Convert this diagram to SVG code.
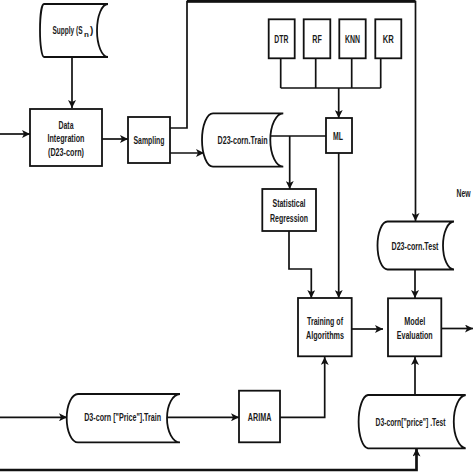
<svg xmlns="http://www.w3.org/2000/svg" width="474" height="474" viewBox="0 0 474 474">
<style>
.b{fill:#fff;stroke:#111;stroke-width:1.8}
.c{fill:none;stroke:#111;stroke-width:1.7}
.t{font-family:"Liberation Sans Narrow","Liberation Sans",Arial,sans-serif;font-weight:bold;font-size:11px;fill:#1a1a1a;text-anchor:middle}
</style>
<defs>
<marker id="a" viewBox="0 0 10 10" refX="10" refY="5" markerWidth="8" markerHeight="8" markerUnits="userSpaceOnUse" orient="auto">
<path d="M0,0 L10,5 L0,10 L2.5,5 z" fill="#111"/>
</marker>
</defs>
<rect width="474" height="474" fill="#fff"/>
<g id="connectors">
<path class="c" d="M72,58 V108" marker-end="url(#a)"/>
<path class="c" d="M0,134 H30" marker-end="url(#a)"/>
<path class="c" d="M102,139 H128" marker-end="url(#a)"/>
<path class="c" d="M170,153 H204" marker-end="url(#a)"/>
<path class="c" d="M170,128 H187 V1.5 H415.5 V221" marker-end="url(#a)"/>
<path class="c" d="M187,1.3 H415.5" style="stroke-width:2.7"/>
<path class="c" d="M270,136 H326"/>
<path class="c" d="M289.7,136 V189" marker-end="url(#a)"/>
<path class="c" d="M280.7,58 V88 M315.7,58 V88 M351.7,58 V88 M380.7,58 V88 M280.7,88 H380.7"/>
<path class="c" d="M338.7,88 V118" marker-end="url(#a)"/>
<path class="c" d="M338.7,153 V298" marker-end="url(#a)"/>
<path class="c" d="M289,231 V269 H311.3 V298" marker-end="url(#a)"/>
<path class="c" d="M352,329 H383" marker-end="url(#a)"/>
<path class="c" d="M441,328.5 H473" marker-end="url(#a)"/>
<path class="c" d="M415,269 V298" marker-end="url(#a)"/>
<path class="c" d="M415,395 V357" marker-end="url(#a)"/>
<path class="c" d="M0,470 H416.5 V448.5" style="stroke-width:2.7" marker-end="url(#a)"/>
<path class="c" d="M0,417.3 H67" marker-end="url(#a)"/>
<path class="c" d="M167,417.3 H239" marker-end="url(#a)"/>
<path class="c" d="M280,417.3 H324.7 V357" marker-end="url(#a)"/>
</g>
<g id="supply">
<path class="b" d="M44,4 H108 A11,26.5 0 0 0 108,57 H44 A4,26.5 0 0 1 44,4 Z"/>
<text class="t" x="52.5" y="34" style="text-anchor:start"><tspan textLength="30" lengthAdjust="spacingAndGlyphs">Supply (S</tspan><tspan x="84" dy="2.5" style="font-size:8px">n</tspan><tspan x="90" dy="-2.5" style="font-size:10px">)</tspan></text>
</g>
<g id="data-integration">
<rect class="b" x="30" y="109" width="72" height="57"/>
<text class="t" x="66" y="128.5" textLength="15" lengthAdjust="spacingAndGlyphs">Data</text>
<text class="t" x="66" y="142" textLength="37" lengthAdjust="spacingAndGlyphs">Integration</text>
<text class="t" x="66" y="156" textLength="36" lengthAdjust="spacingAndGlyphs">(D23-corn)</text>
</g>
<g id="sampling">
<rect class="b" x="128" y="117" width="42" height="46"/>
<text class="t" x="149" y="143.8" textLength="31" lengthAdjust="spacingAndGlyphs">Sampling</text>
</g>
<g id="d23-train">
<path class="b" d="M213,113.3 H283.3 A13,26.7 0 0 0 283.3,166.7 H213 A11,26.7 0 0 1 213,113.3 Z"/>
<text class="t" x="242.5" y="143.8" textLength="50" lengthAdjust="spacingAndGlyphs">D23-corn.Train</text>
</g>
<g id="dtr">
<rect class="b" x="268.7" y="19.3" width="26" height="39"/>
<text class="t" x="281.3" y="42.5" textLength="14" lengthAdjust="spacingAndGlyphs">DTR</text>
</g>
<g id="rf">
<rect class="b" x="303.7" y="19.3" width="26.6" height="39"/>
<text class="t" x="317" y="42.5" textLength="9.5" lengthAdjust="spacingAndGlyphs">RF</text>
</g>
<g id="knn">
<rect class="b" x="339.3" y="19.3" width="26.4" height="39"/>
<text class="t" x="352.5" y="42.5" textLength="15" lengthAdjust="spacingAndGlyphs">KNN</text>
</g>
<g id="kr">
<rect class="b" x="375.3" y="19.3" width="26" height="39"/>
<text class="t" x="388.2" y="42.5" textLength="11" lengthAdjust="spacingAndGlyphs">KR</text>
</g>
<g id="ml">
<rect class="b" x="326" y="118" width="26" height="35"/>
<text class="t" x="338" y="140" textLength="10" lengthAdjust="spacingAndGlyphs">ML</text>
</g>
<g id="statistical-regression">
<rect class="b" x="262.3" y="189" width="53.7" height="42"/>
<text class="t" x="289" y="206.8" textLength="33" lengthAdjust="spacingAndGlyphs">Statistical</text>
<text class="t" x="289" y="222" textLength="38" lengthAdjust="spacingAndGlyphs">Regression</text>
</g>
<g id="training">
<rect class="b" x="298" y="298" width="53.7" height="58.3"/>
<text class="t" x="325" y="325" textLength="36" lengthAdjust="spacingAndGlyphs">Training of</text>
<text class="t" x="325" y="338.5" textLength="38" lengthAdjust="spacingAndGlyphs">Algorithms</text>
</g>
<g id="model-evaluation">
<rect class="b" x="388" y="298.3" width="53.3" height="58"/>
<text class="t" x="414.7" y="325" textLength="21" lengthAdjust="spacingAndGlyphs">Model</text>
<text class="t" x="414.7" y="339" textLength="36" lengthAdjust="spacingAndGlyphs">Evaluation</text>
</g>
<g id="d23-test">
<path class="b" d="M387.5,221.5 H454 A11,24 0 0 0 454,269.5 H387.5 A10,24 0 0 1 387.5,221.5 Z"/>
<text class="t" x="415" y="249.5" textLength="47" lengthAdjust="spacingAndGlyphs">D23-corn.Test</text>
</g>
<g id="d3-test">
<path class="b" d="M368,395 H465.7 A12.7,26.7 0 0 0 465.7,448.3 H368 A10,26.7 0 0 1 368,395 Z"/>
<text class="t" x="410.5" y="425.8" textLength="70" lengthAdjust="spacingAndGlyphs">D3-corn["price"] .Test</text>
</g>
<g id="d3-train">
<path class="b" d="M78,394 H180 A13,24.2 0 0 0 180,442.4 H78 A11.3,24.2 0 0 1 78,394 Z"/>
<text class="t" x="122.7" y="421" textLength="77" lengthAdjust="spacingAndGlyphs">D3-corn ["Price"].Train</text>
</g>
<g id="arima">
<rect class="b" x="239" y="390.7" width="41" height="51.6"/>
<text class="t" x="259.6" y="421" textLength="23.5" lengthAdjust="spacingAndGlyphs">ARIMA</text>
</g>
<g id="new-label">
<text class="t" x="463.5" y="196.5" textLength="14" lengthAdjust="spacingAndGlyphs">New</text>
</g>
</svg>
